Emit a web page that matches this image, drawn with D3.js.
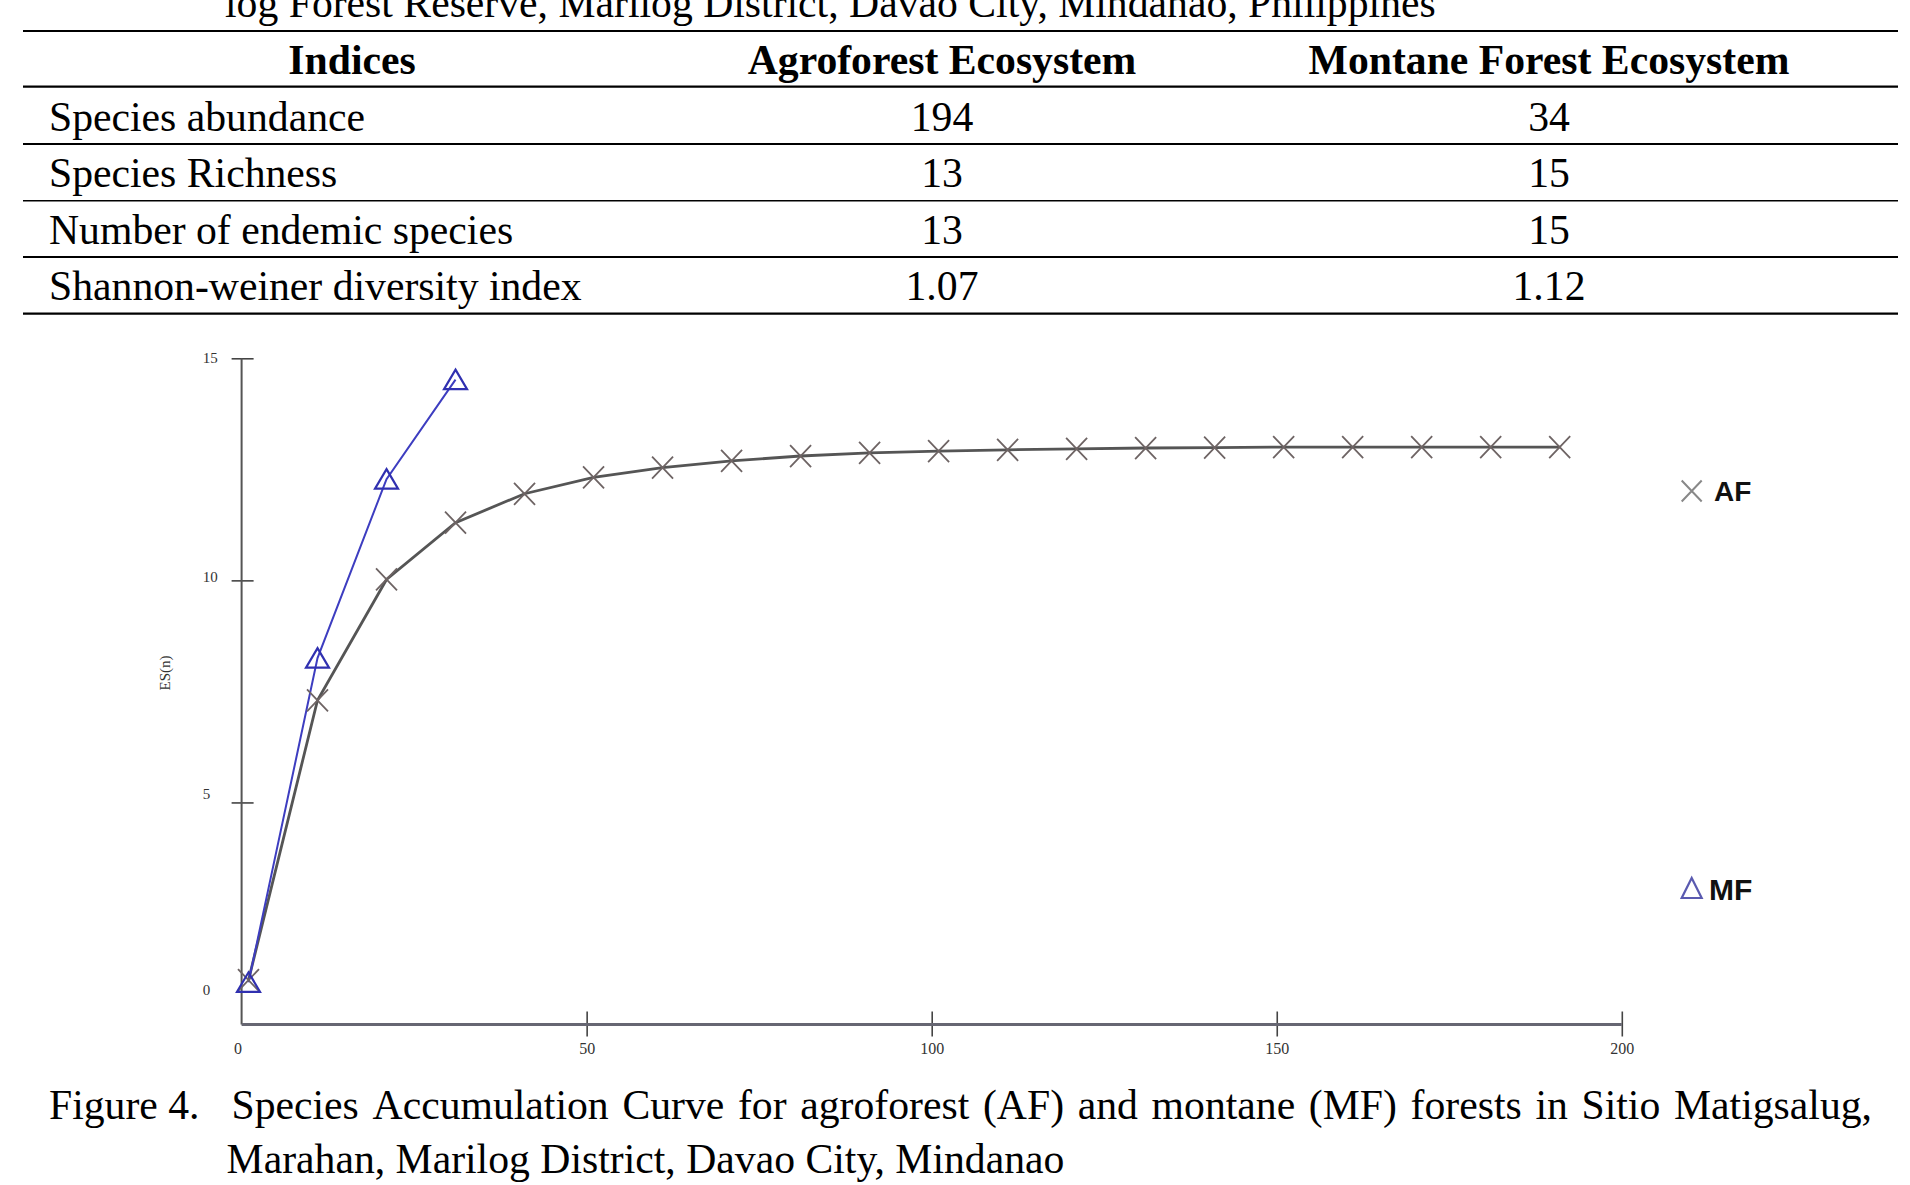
<!DOCTYPE html>
<html>
<head>
<meta charset="utf-8">
<script src="https://cdn.jsdelivr.net/npm/d3@7"></script>
<style>
  html, body { margin: 0; padding: 0; background: #fff; overflow: hidden; }
  svg { display: block; }
</style>
</head>
<body>
<svg id="fig" width="1910" height="1185"></svg>
<script>
// ---------- DATA ----------
const tableTitleTail = "log Forest Reserve, Marilog District, Davao City, Mindanao, Philippines";
const tableHeaders = ["Indices", "Agroforest Ecosystem", "Montane Forest Ecosystem"];
const indices = ["Species abundance", "Species Richness", "Number of endemic species", "Shannon-weiner diversity index"];
const agroforestValues = ["194", "13", "13", "1.07"];
const montaneValues = ["34", "15", "15", "1.12"];

const afSamples = [1, 11, 21, 31, 41, 51, 61, 71, 81, 91, 101, 111, 121, 131, 141, 151, 161, 171, 181, 191];
const afES = [1, 7.3, 10.02, 11.3, 11.95, 12.32, 12.54, 12.69, 12.8, 12.87, 12.91, 12.94, 12.96, 12.98, 12.99, 13, 13, 13, 13, 13];
const mfSamples = [1, 11, 21, 31];
const mfES = [0.95, 8.25, 12.28, 14.52];

const xTicks = [50, 100, 150, 200];
const yTicks = [5, 10, 15];
const yAxisTitle = "ES(n)";
const legendLabels = ["AF", "MF"];

const captionLabel = "Figure 4.";
const captionLine1 = "Species Accumulation Curve for agroforest (AF) and montane (MF) forests in Sitio Matigsalug,";
const captionLine2 = "Marahan, Marilog District, Davao City, Mindanao";

// ---------- LAYOUT ----------
const svg = d3.select("#fig");
const serif = "'Liberation Serif', 'Times New Roman', serif";
const sans = "'Liberation Sans', Arial, sans-serif";
const fs = 41.7;

// Table
const tbl = svg.append("g");
tbl.append("text").attr("x", 225).attr("y", 17)
  .attr("font-family", serif).attr("font-size", fs).attr("fill", "#000")
  .text(tableTitleTail);

const colX = [352, 942, 1549];
const ruleYs = [31, 86.7, 144, 200.7, 257, 313.7];
const ruleW = [2.2, 2.2, 2.2, 1.4, 2.2, 2.2];
ruleYs.forEach((yy, i) => {
  tbl.append("line").attr("x1", 23).attr("x2", 1898).attr("y1", yy).attr("y2", yy)
    .attr("stroke", "#000").attr("stroke-width", ruleW[i]);
});
tbl.selectAll("text.hdr").data(tableHeaders).join("text").attr("class", "hdr")
  .attr("x", (d, i) => colX[i]).attr("y", 74)
  .attr("text-anchor", "middle").attr("font-family", serif).attr("font-weight", "bold")
  .attr("font-size", fs).attr("fill", "#000").text(d => d);

const rowBase = [131, 187.3, 243.7, 300];
indices.forEach((lab, i) => {
  tbl.append("text").attr("x", 49).attr("y", rowBase[i])
    .attr("font-family", serif).attr("font-size", fs).attr("fill", "#000").text(lab);
  tbl.append("text").attr("x", colX[1]).attr("y", rowBase[i]).attr("text-anchor", "middle")
    .attr("font-family", serif).attr("font-size", fs).attr("fill", "#000").text(agroforestValues[i]);
  tbl.append("text").attr("x", colX[2]).attr("y", rowBase[i]).attr("text-anchor", "middle")
    .attr("font-family", serif).attr("font-size", fs).attr("fill", "#000").text(montaneValues[i]);
});

// Chart scales
const x = d3.scaleLinear().domain([0, 200]).range([241.6, 1621.8]);
const y = d3.scaleLinear().domain([0, 15]).range([1024.5, 358.3]);

const chart = svg.append("g");

// Y axis
const yLabelNudge = { 5: -9, 10: -4, 15: -0.5 };
const yAxisG = chart.append("g").attr("transform", `translate(${x(0)},0)`)
  .call(d3.axisLeft(y).tickValues(yTicks).tickSize(0).tickPadding(0));
yAxisG.select(".domain").remove();
yAxisG.selectAll(".tick line").attr("x1", -10).attr("x2", 12).attr("stroke", "#444").attr("stroke-width", 1.6);
yAxisG.selectAll(".tick text").attr("x", 202.7 - x(0)).attr("text-anchor", "start")
  .attr("y", d => yLabelNudge[d]).attr("dy", "0.32em")
  .attr("font-family", serif).attr("font-size", 15).attr("fill", "#333");
chart.append("line").attr("x1", x(0)).attr("x2", x(0)).attr("y1", y(15)).attr("y2", y(0))
  .attr("stroke", "#555").attr("stroke-width", 2);
// lone "0" label of the y axis (drawn without a tick, above the baseline)
chart.append("text").attr("x", 202.7).attr("y", y(0) - 30)
  .attr("font-family", serif).attr("font-size", 15).attr("fill", "#333").text("0");

// X axis
const xAxisG = chart.append("g").attr("transform", `translate(0,${y(0)})`)
  .call(d3.axisBottom(x).tickValues(xTicks).tickSize(0).tickPadding(0));
xAxisG.select(".domain").remove();
chart.append("line").attr("x1", x(0)).attr("x2", x(200)).attr("y1", y(0)).attr("y2", y(0))
  .attr("stroke", "#666672").attr("stroke-width", 3);
xAxisG.selectAll(".tick line").attr("y1", -13).attr("y2", 12).attr("stroke", "#444").attr("stroke-width", 1.6);
xAxisG.selectAll(".tick text").attr("y", 29).attr("dy", 0)
  .attr("font-family", serif).attr("font-size", 16).attr("fill", "#333");
chart.append("text").attr("x", x(0) - 3.5).attr("y", y(0) + 29).attr("text-anchor", "middle")
  .attr("font-family", serif).attr("font-size", 16).attr("fill", "#333").text("0");

// Y axis title
chart.append("text").attr("transform", `translate(170,673) rotate(-90)`)
  .attr("text-anchor", "middle").attr("font-family", serif).attr("font-size", 15).attr("fill", "#333")
  .text(yAxisTitle);

// Lines
const afData = afSamples.map((n, i) => ({ n, v: afES[i] }));
const mfData = mfSamples.map((n, i) => ({ n, v: mfES[i] }));
const line = d3.line().x(d => x(d.n)).y(d => y(d.v));

chart.append("path").datum(afData).attr("d", line).attr("fill", "none")
  .attr("stroke", "#555555").attr("stroke-width", 2.8);
chart.append("path").datum(mfData).attr("d", line).attr("fill", "none")
  .attr("stroke", "#3d3dc0").attr("stroke-width", 2);

// Markers
const xShape = "M-10.5,-11L10.5,11M-10.5,11L10.5,-11";
chart.selectAll("path.afm").data(afData).join("path").attr("class", "afm")
  .attr("transform", d => `translate(${x(d.n)},${y(d.v)})`)
  .attr("d", xShape).attr("fill", "none").attr("stroke", "#6e6464").attr("stroke-width", 1.8);

// triangle drawn with its bounding-box centre on the data point
const triShape = "M0,-10L11.5,9.5L-11.5,9.5Z";
chart.selectAll("path.mfm").data(mfData).join("path").attr("class", "mfm")
  .attr("transform", d => `translate(${x(d.n)},${y(d.v)})`)
  .attr("d", triShape).attr("fill", "none").attr("stroke", "#3030b0").attr("stroke-width", 2.2);

// Legend
const lg = svg.append("g");
lg.append("path").attr("transform", "translate(1691.7,491)")
  .attr("d", "M-10,-10.5L10,10.5M-10,10.5L10,-10.5").attr("fill", "none").attr("stroke", "#888").attr("stroke-width", 2);
lg.append("text").attr("x", 1714).attr("y", 501).attr("font-family", sans).attr("font-weight", "bold")
  .attr("font-size", 28).attr("fill", "#111").text(legendLabels[0]);
lg.append("path").attr("transform", "translate(1691.7,888)")
  .attr("d", "M0,-10L10,10L-10,10Z").attr("fill", "none").attr("stroke", "#5a5ab0").attr("stroke-width", 2.2);
lg.append("text").attr("x", 1709).attr("y", 900).attr("font-family", sans).attr("font-weight", "bold")
  .attr("font-size", 30).attr("fill", "#111").text(legendLabels[1]);

// Caption
const cap = svg.append("g").attr("font-family", serif).attr("font-size", fs).attr("fill", "#000");
cap.append("text").attr("x", 49).attr("y", 1119).text(captionLabel);
// justified first line
const words = captionLine1.split(" ");
const startX = 231.5, endX = 1872;
const wEls = words.map(w => cap.append("text").attr("y", 1119).text(w));
const widths = wEls.map(el => el.node().getComputedTextLength());
const total = d3.sum(widths);
const gap = (endX - startX - total) / (words.length - 1);
let cx = startX;
wEls.forEach((el, i) => { el.attr("x", cx); cx += widths[i] + gap; });
cap.append("text").attr("x", 226.6).attr("y", 1173).text(captionLine2);
</script>
</body>
</html>
